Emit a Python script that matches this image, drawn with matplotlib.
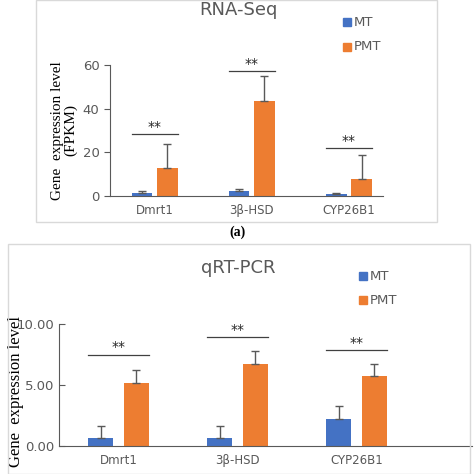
import matplotlib
matplotlib.use("Agg")
import matplotlib.pyplot as plt
from matplotlib.patches import Rectangle
import numpy as np

genes = ["Dmrt1", "3β-HSD", "CYP26B1"]
rna_mt = [1.5, 2.5, 1.0]
rna_mt_err = [0.6, 0.6, 0.5]
rna_pmt = [13.0, 43.5, 8.0]
rna_pmt_err = [11.0, 11.5, 11.0]
rna_sig = [28.4, 57.3, 22.0]
q_mt = [0.65, 0.65, 2.2]
q_mt_err = [1.0, 1.0, 1.05]
q_pmt = [5.15, 6.7, 5.75]
q_pmt_err = [1.05, 1.05, 1.0]
q_sig = [7.5, 8.9, 7.9]

BLUE = "#4472C4"
ORANGE = "#ED7D31"
GRAY = "#595959"

fig = plt.figure(figsize=(4.74, 4.74), dpi=100)
W = 474.0
def fx(p): return p / W
def fy(p): return 1 - p / W

for (x0, y0, x1, y1) in [(36, 0, 437, 222), (8, 244, 470, 474)]:
    fig.patches.append(Rectangle((fx(x0), fy(y1)), fx(x1 - x0), (y1 - y0) / W,
                                 transform=fig.transFigure, fill=False,
                                 edgecolor="#D9D9D9", lw=1.0))

def panel(rect, mt, mte, pmt, pmte, sig, ylim, yticks, yfmt, xlim, w, off):
    ax = fig.add_axes(rect)
    x = np.arange(len(genes))
    z = [0] * len(genes)
    ax.bar(x - off, mt, w, color=BLUE, yerr=[z, mte],
           error_kw=dict(ecolor=GRAY, capsize=3, lw=1))
    ax.bar(x + off, pmt, w, color=ORANGE, yerr=[z, pmte],
           error_kw=dict(ecolor=GRAY, capsize=3, lw=1))
    for i, s in enumerate(sig):
        ax.plot([i - off - w * 0.5, i + off + w * 0.5], [s, s], color="#404040", lw=0.9)
        ax.text(i, s, "**", ha="center", va="bottom", fontsize=10, color="#262626")
    ax.set_xlim(*xlim)
    ax.set_ylim(*ylim)
    ax.set_yticks(yticks)
    ax.set_yticklabels([yfmt.format(v) for v in yticks], fontsize=9.5, color=GRAY)
    ax.set_xticks(x)
    ax.set_xticklabels(genes, fontsize=8.5, color=GRAY)
    for s in ["top", "right"]:
        ax.spines[s].set_visible(False)
    for s in ["left", "bottom"]:
        ax.spines[s].set_color(GRAY)
    ax.tick_params(axis="x", length=0, pad=6)
    ax.tick_params(axis="y", length=4, direction="in", color=GRAY)
    ax.patch.set_alpha(0)
    return ax

ax1 = panel([fx(110), fy(196), fx(273), 131 / W], rna_mt, rna_mt_err, rna_pmt, rna_pmt_err,
            rna_sig, (0, 60), [0, 20, 40, 60], "{:.0f}", (-0.46, 2.35), 0.21, 0.13)
ax1.tick_params(axis="y", direction="out")
ax1.set_ylabel("Gene  expression level\n(FPKM)", family="Liberation Serif", fontsize=11, linespacing=1.0)

ax2 = panel([fx(59), fy(446), fx(413), 122 / W], q_mt, q_mt_err, q_pmt, q_pmt_err,
            q_sig, (0, 10), [0, 5, 10], "{:.2f}", (-0.5, 2.97), 0.21, 0.15)
ax2.set_ylabel("Gene  expression level", family="Liberation Serif", fontsize=12)
ax2.yaxis.set_label_coords(-0.085, 0.45)

fig.text(fx(238), fy(10), "RNA-Seq", ha="center", va="center", fontsize=13, color=GRAY)
fig.text(fx(238), fy(268), "qRT-PCR", ha="center", va="center", fontsize=13, color=GRAY)
fig.text(fx(238), fy(232), "(a)", ha="center", va="center", fontsize=10,
         family="Liberation Serif", fontweight="bold")

for (x, y, c, lab) in [(347, 22, BLUE, "MT"), (347, 47, ORANGE, "PMT"),
                       (363, 276, BLUE, "MT"), (363, 300, ORANGE, "PMT")]:
    fig.patches.append(Rectangle((fx(x - 4), fy(y + 4)), 8 / W, 8 / W,
                                 transform=fig.transFigure, color=c))
    fig.text(fx(x + 7), fy(y), lab, ha="left", va="center", fontsize=9.5, color=GRAY)

fig.savefig("out.png", dpi=100)
